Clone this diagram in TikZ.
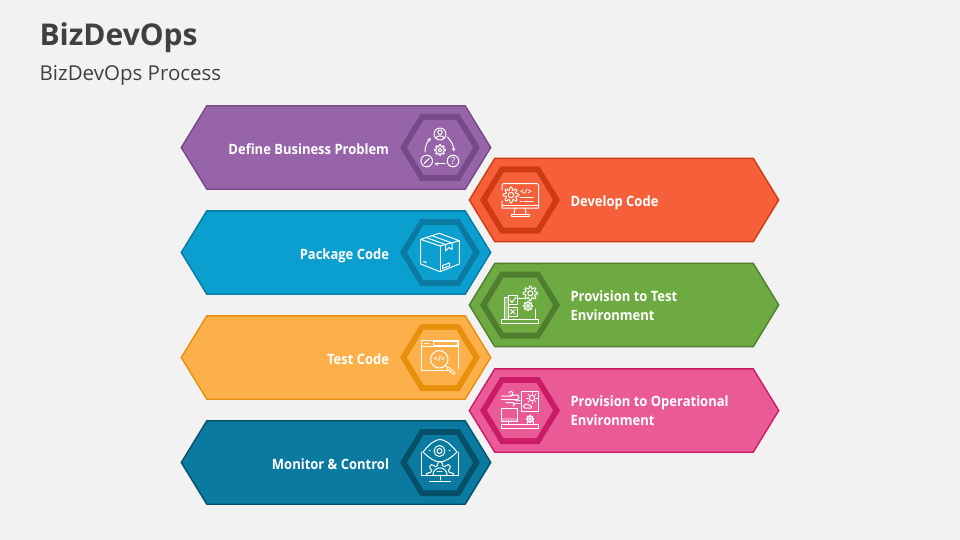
\documentclass[tikz,border=0pt]{standalone}
\usepackage{fontspec}
\setmainfont{Open Sans}
\newfontfamily\labfont[FakeStretch=0.915]{Open Sans Bold}
\usetikzlibrary{arrows.meta,calc}
\definecolor{bgc}{HTML}{F2F2F2}
\definecolor{titlec}{HTML}{404040}
\definecolor{pur}{HTML}{9763A9}\definecolor{purd}{HTML}{764A87}
\definecolor{red1}{HTML}{F5603B}\definecolor{redd}{HTML}{CE3A12}
\definecolor{blu}{HTML}{0A9FCF}\definecolor{blud}{HTML}{0A7AA0}
\definecolor{grn}{HTML}{6EAA42}\definecolor{grnd}{HTML}{4F7E2F}
\definecolor{yel}{HTML}{FBB04A}\definecolor{yeld}{HTML}{E8900B}
\definecolor{pnk}{HTML}{EA5A97}\definecolor{pnkd}{HTML}{CB1B66}
\definecolor{tea}{HTML}{0A7AA0}\definecolor{tead}{HTML}{064F69}
% big hexagon: cx, cy, fill, edge
\newcommand{\bighex}[4]{\draw[fill=#3,draw=#4,line width=1.4pt,line join=miter] (#1,#2) ++(-154.7,0)--++(25.5,-41.7)--++(258.4,0)--++(25.5,41.7)--++(-25.5,41.7)--++(-258.4,0)--cycle;}
% badge: cx, cy, fill, edge
\newcommand{\badge}[4]{
  \fill[#4] (#1,#2) ++(-40,0)--++(20.5,-33.5)--++(39,0)--++(20.5,33.5)--++(-20.5,33.5)--++(-39,0)--cycle;
  \fill[#3] (#1,#2) ++(-33,0)--++(16.5,-27.5)--++(33,0)--++(16.5,27.5)--++(-16.5,27.5)--++(-33,0)--cycle;}
\newcommand{\gearic}[3]{\draw[ic] plot[domain=0:360,samples=65] ({#1+#3*(1+.2*sign(cos(8*\x)))*cos(\x)},{#2+#3*(1+.2*sign(cos(8*\x)))*sin(\x)}) -- cycle;
  \draw[ic] (#1,#2) circle[radius=#3*.42];}
\tikzset{
  ic/.style={draw=white,line width=1pt,line cap=round,line join=round},
  lab/.style={text=white,font=\fontsize{14.2}{19}\selectfont\labfont,inner sep=0pt,outer sep=0pt},
  labl/.style={lab,anchor=base east,align=right},
  labr/.style={lab,anchor=base west,align=left},
  tipc/.style={-{Stealth[length=3.5pt,width=3.5pt]},ic}
}
\begin{document}
\begin{tikzpicture}[x=1pt,y=-1pt]
\useasboundingbox (0,0) rectangle (960,540);
\fill[bgc] (0,0) rectangle (960,540);
\node[anchor=base west,inner sep=0pt,text=titlec,font=\fontsize{30}{36}\selectfont\bfseries] (title) at (39.3,46) {BizDevOps};
\node[anchor=base west,inner sep=0pt,text=titlec,font=\fontsize{20.5}{24}\selectfont] (subtitle) at (39.5,80.5) {BizDevOps Process};

\bighex{336}{462.5}{tea}{tead}
\bighex{624}{410.5}{pnk}{pnkd}
\bighex{336}{357.5}{yel}{yeld}
\bighex{624}{305}{grn}{grnd}
\bighex{336}{252.5}{blu}{blud}
\bighex{624}{200}{red1}{redd}
\bighex{336}{147.5}{pur}{purd}

\badge{440}{147.5}{pur}{purd}
\badge{520}{200}{red1}{redd}
\badge{440}{252.5}{blu}{blud}
\badge{520}{305}{grn}{grnd}
\badge{440}{357.5}{yel}{yeld}
\badge{520}{410.5}{pnk}{pnkd}
\badge{440}{462.5}{tea}{tead}

\node[labl] (t1) at (389,154.3) {Define Business Problem};
\node[labr] (t2) at (570.5,206) {Develop Code};
\node[labl] (t3) at (389,259) {Package Code};
\node[labr,anchor=west] (t4) at (570.5,305.2) {Provision to Test\\Environment};
\node[labl] (t5) at (389,364) {Test Code};
\node[labr,anchor=west] (t6) at (570.5,410.5) {Provision to Operational\\Environment};
\node[labl] (t7) at (389,469) {Monitor \& Control};

% icon 1 cycle
\draw[ic] (440,134) circle[radius=6];
\draw[ic] (440,132.3) circle[radius=2.2];
\draw[ic] (436,138.5) .. controls (436,135) and (444,135) .. (444,138.5);
\gearic{440}{150}{4.5}
\draw[ic] (426.7,161) circle[radius=5.8];
\draw[ic] (424.2,163.5)--(429.2,158.5);
\draw[ic] (453,161) circle[radius=5.8];
\node[text=white,inner sep=0pt,font=\fontsize{10}{10}\selectfont] (q1) at (453,161) {?};
\draw[tipc] (447.5,137) to[bend left=18] (454,151.5);
\draw[tipc] (445,164) -- (434.5,164);
\draw[tipc] (425,152) to[bend left=22] (431,138);

% icon 2 dev monitor
\draw[ic] (507,183.5)--(537,183.5)--(538.5,185)--(538.5,208)--(502,208)--(502,201);
\draw[ic] (502,190)--(502,185)--(503.5,183.5)--(507,183.5);
\draw[ic] (502,205)--(538.5,205);
\gearic{511}{195}{6.5}
\draw[ic] (515,208)--(514,214)(525,208)--(526,214);
\draw[ic] (511,214)--(529,214)--(529,216.5)--(511,216.5)--cycle;
\node[text=white,inner sep=0pt,font=\fontsize{7.5}{7.5}\selectfont\bfseries] (c1) at (526,191.5) {</>};
\draw[ic] (520,197.5)--(533,197.5)(524,201)--(533,201);
\draw[ic] (520,201)--(522,201);

% icon 3 box
\draw[ic] (420.7,239.3)--(439.3,233.3)--(459.3,240.7)--(440,246)--cycle;
\draw[ic] (420.7,239.3)--(420.7,264)--(440,271.7)--(459.3,264)--(459.3,240.7);
\draw[ic] (440,246)--(440,271.7);
\draw[ic] (431.5,235.5)--(452,243)--(452,249.5)--(449,247.5)--(445.5,251)--(445.5,244.5)--(426,237.5);
\draw[ic] (423.5,261.5)--(426.5,262.5);
\draw[ic] (442.5,265.5)--(449.5,263)--(449.5,266)--(442.5,268.5)--cycle;

% icon 4 laptop
\fill[white,opacity=.3] (504,298)--(508.3,298)--(508.3,319.3)--(504,319.3)--cycle;
\draw[ic] (504,298)--(504,319.3)(508,298)--(508,319.3)--(535,319.3)(535,309)--(535,319.3)(504,297.5)--(508.3,297.5);
\draw[ic] (501.7,319.3)--(538.7,319.3)--(538.7,323.3)--(501.7,323.3)--cycle;
\draw[ic,fill=grn] (508.3,295.3)--(517.3,295.3)--(517.3,304.3)--(508.3,304.3)--cycle;
\draw[ic,fill=grn] (508.3,307.3)--(517.3,307.3)--(517.3,316)--(508.3,316)--cycle;
\draw[ic] (510,300)--(512,302.5)--(516,297);
\draw[ic] (510.5,309.5)--(515,314)(515,309.5)--(510.5,314);
\draw[ic] (517.3,298.3)--(523.5,298.3);
\gearic{530.3}{293.3}{6}
\gearic{528}{306}{3.8}

% icon 5 magnifier
\draw[ic] (451.3,370)--(421.7,370)--(421.7,340.3)--(458.7,340.3)--(458.7,369);
\draw[ic] (421.7,346.7)--(458.7,346.7);
\draw[ic] (433.3,341.7)--(457.3,341.7)--(457.3,345)--(433.3,345)--cycle;
\draw[ic,densely dotted] (424,343.5)--(430,343.5);
\draw[ic,fill=yel] (439.3,359.3) circle[radius=8.7];
\node[text=white,inner sep=0pt,font=\fontsize{7.5}{7.5}\selectfont\bfseries] (c2) at (439.3,359.3) {</>};
\draw[ic] (445.7,365.7)--(448,368);
\draw[ic,line width=3pt] (448,368)--(454,373.5);
\draw[yel,line width=1pt] (448,368)--(454,373.5);

% icon 6 office
\draw[ic] (501.7,424.3)--(538.7,424.3)--(538.7,428.3)--(501.7,428.3)--cycle;
\draw[ic] (501.7,408.3)--(517.3,408.3)--(517.3,421)--(501.7,421)--cycle;
\fill[white,opacity=.3] (501.7,417.5) rectangle (517.3,421);
\draw[ic] (508.3,421)--(508.3,424.3)(504.5,424.3)--(513,424.3);
\draw[ic] (521.7,391.7)--(538.3,391.7)--(538.3,411)--(521.7,411)--cycle;
\draw[ic] (532,398) circle[radius=2.8];
\foreach \a in {0,45,...,315}{\draw[ic] ($(532,398)+(\a:4)$)--($(532,398)+(\a:5.5)$);}
\draw[ic] (524.5,408)--(531,408) to[out=30,in=-30,looseness=1.5] (528,404.5) to[out=130,in=40] (524.5,405) to[out=200,in=170,looseness=1.3] (524.5,408);
\gearic{530}{419}{3}
\draw[ic] (527,421.5)--(533,421.5)--(533,424.3)--(527,424.3)--cycle;
\draw[ic] (501.7,396)--(511,396) to[out=0,in=0,looseness=1.5] (511,391.5) to[out=180,in=90] (509,393);
\draw[ic] (501.7,399.5)--(517,399.5) to[out=0,in=0,looseness=1.5] (517,395)--(510,395);
\draw[ic] (506,402.5)--(513,402.5) to[out=0,in=0,looseness=1.5] (513,406);
\draw[ic,densely dotted] (515,400.5)--(520,400.5)(515,403)--(520,403);

% icon 7 monitor eye
\draw[ic] (421.7,452)--(421.7,475)--(458.3,475)--(458.3,452);
\draw[ic] (440,475)--(440,480)(429.5,481.5)--(450.5,481.5);
\draw[ic,fill=tea] (423,452) .. controls (430,443) and (436,439.5) .. (440,439.5) .. controls (444,439.5) and (450,443) .. (457,452) .. controls (450,459) and (444,462) .. (440,462) .. controls (436,462) and (430,459) .. (423,452) -- cycle;
\draw[ic] (439.5,451) circle[radius=5.5];
\draw[ic] (439.5,451) circle[radius=2.5];
\draw[ic,densely dotted] (429,450)--(431,450)(449,450)--(451,450);
\draw[ic] plot[domain=0:180,samples=33] ({440+(11.5*(1+.17*sign(cos(8*\x))))*cos(\x)},{475-(11.5*(1+.17*sign(cos(8*\x))))*sin(\x)});
\draw[ic] (433,475) .. controls (433,465.5) and (447,465.5) .. (447,475);
\draw[ic,densely dotted] (437,471)--(443,471);
\end{tikzpicture}
\end{document}
